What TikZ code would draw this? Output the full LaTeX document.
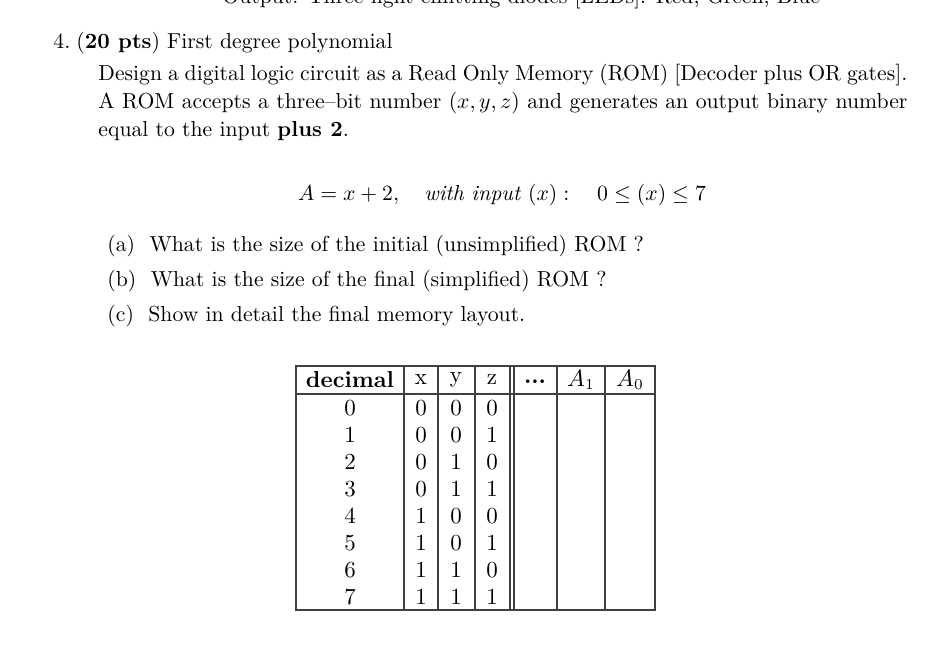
\documentclass[tikz,border=0pt]{standalone}
\begin{document}
\begin{tikzpicture}[x=0.46083pt,y=-0.46083pt,scale=2.17,every node/.style={transform shape},
  txt/.style={anchor=base west,inner sep=0pt,font=\fontsize{10}{12.9}\selectfont},
  cell/.style={anchor=center,inner sep=0pt,font=\fontsize{10.6}{12}\selectfont},
  grid/.style={line width=1.1pt,draw=black!75}]
\useasboundingbox (0,0) rectangle (952,662);
\begin{scope}
\clip (0,0) rectangle (952,662);
\node[txt] (top) at (222,3) {Output: Three light-emitting diodes [LEDs]: Red, Green, Blue};
\fill (207,-3) circle (2.5);
\end{scope}
\node[txt] (num) at (53,48) {4.};
\node[txt] (head) at (76,48) {(\textbf{20 pts}) First degree polynomial};
\node[txt,anchor=north west,text width=372.8pt,align=justify] (para) at (98,64)
 {Design a digital logic circuit as a Read Only Memory (ROM) [Decoder plus OR gates].\linebreak
  A ROM accepts a three--bit number $(x,y,z)$ and generates an output binary number\linebreak
  equal to the input \textbf{plus 2}.};
\node[txt,anchor=base] (eq) at (502,200) {$A=x+2,\quad \textit{with input } (x):\quad 0\le(x)\le7$};
\node[txt] (qa) at (107,251) {(a)\ \ What is the size of the initial (unsimplified) ROM ?};
\node[txt] (qb) at (107,286) {(b)\ \ What is the size of the final (simplified) ROM ?};
\node[txt] (qc) at (107,321) {(c)\ \ Show in detail the final memory layout.};
% table
\draw[grid] (296,366) rectangle (655,610);
\draw[grid] (296,394) -- (655,394);
\foreach \xx in {404,438,475,510,514,557,605} \draw[grid] (\xx,366) -- (\xx,610);
\node[cell] (hd) at (350,380) {\textbf{decimal}};
\node[cell] (hx) at (421,380) {x};
\node[cell] (hy) at (456,380) {y};
\node[cell] (hz) at (492,380) {z};
\node[cell] (hdots) at (535,382) {\textbf{...}};
\node[cell] (ha1) at (581,380) {$A_1$};
\node[cell] (ha0) at (630,380) {$A_0$};
\foreach \d/\a/\b/\c [count=\i from 0] in {0/0/0/0,1/0/0/1,2/0/1/0,3/0/1/1,4/1/0/0,5/1/0/1,6/1/1/0,7/1/1/1}{
  \node[cell] (d\i) at (350,{408+27*\i}) {\d};
  \node[cell] (x\i) at (421,{408+27*\i}) {\a};
  \node[cell] (y\i) at (456,{408+27*\i}) {\b};
  \node[cell] (z\i) at (492,{408+27*\i}) {\c};
}
\end{tikzpicture}
\end{document}
